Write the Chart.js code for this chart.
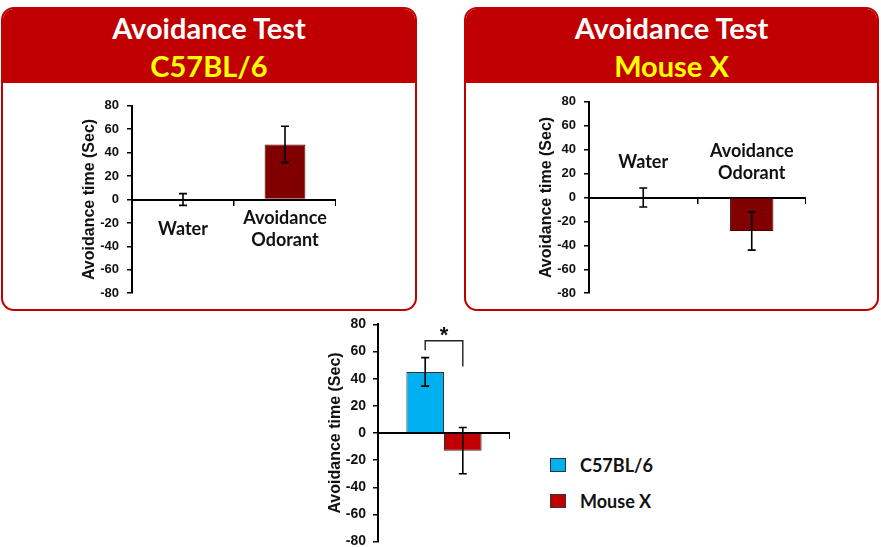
<!DOCTYPE html>
<html>
<head>
<meta charset="utf-8">
<script src="https://cdn.jsdelivr.net/npm/chart.js@4/dist/chart.umd.min.js"></script>
<style>
  html, body { margin: 0; padding: 0; background: #fff; width: 881px; height: 547px; overflow: hidden; }
  body { position: relative; font-family: Lato, sans-serif; }
  .painel { position: absolute; box-sizing: border-box; border: 2px solid #c00000; border-radius: 13px; overflow: hidden; background: #fff; }
  .cabecalho { position: absolute; left: 0; right: 0; top: 0; height: 74px; background: #c00000; }
  .titulo { position: absolute; text-align: center; font-weight: bold; font-size: 29px; line-height: 36px; white-space: nowrap; }
  canvas { position: absolute; }
  .legenda { position: absolute; left: 550px; font-weight: bold; font-size: 18px; color: #111; }
  .legenda div { position: relative; height: 36px; }
  .legenda span.caixa { position: absolute; left: 0; top: 0; width: 16px; height: 14px; box-sizing: border-box; border: 1px solid #333; }
  .legenda span.texto { position: absolute; left: 30px; top: -4px; line-height: 22px; white-space: nowrap; }
</style>
</head>
<body>

<div class="painel" style="left:1px;top:7px;width:416px;height:304px"><div class="cabecalho"></div></div>
<div class="painel" style="left:464px;top:7px;width:415px;height:304px"><div class="cabecalho"></div></div>

<div class="titulo" style="left:1px;width:416px;top:10px;color:#fff">Avoidance Test</div>
<div class="titulo" style="left:1px;width:416px;top:48px;color:#ffff00">C57BL/6</div>
<div class="titulo" style="left:464px;width:415px;top:10px;color:#fff">Avoidance Test</div>
<div class="titulo" style="left:464px;width:415px;top:48px;color:#ffff00">Mouse X</div>

<canvas id="graficoC57" width="260" height="219" style="left:76px;top:90px"></canvas>
<canvas id="graficoMouseX" width="273" height="223" style="left:533px;top:86px"></canvas>
<canvas id="graficoComparacao" width="188" height="248" style="left:322px;top:309px"></canvas>

<div class="legenda" id="legenda" style="top:458px"></div>

<script>
// Dados
const categorias = ['Water', ['Avoidance', 'Odorant']];
const c57Valores = [0, 47];
const c57Erros = [5, 15.5];
const mouseXValores = [0, -28];
const mouseXErros = [8, 16];

const grupos = ['C57BL/6', 'Mouse X'];
const comparacaoValores = [45, -13];
const comparacaoErros = [10.5, 17];
const coresGrupos = ['#00b0f0', '#c00000'];

// Eixo Y: -80 a 80, de 20 em 20
const yMin = -80;
const yMax = 80;
const yPasso = 20;

// Colchete de significância (valores no eixo Y)
const sigTopo = 68;
const sigEsquerda = 61;
const sigDireita = 49;
const sigAsterisco = 76;

// Barras de erro
const barrasDeErro = {
    id: 'barrasDeErro',
    afterDatasetsDraw(chart) {
        const ctx = chart.ctx;
        const y = chart.scales.y;
        chart.data.datasets.forEach((ds, i) => {
            chart.getDatasetMeta(i).data.forEach((barra, j) => {
                const topo = y.getPixelForValue(ds.data[j] + ds.erros[j]);
                const base = y.getPixelForValue(ds.data[j] - ds.erros[j]);
                ctx.save();
                ctx.strokeStyle = '#000';
                ctx.lineWidth = 1.6;
                ctx.beginPath();
                ctx.moveTo(barra.x, topo);
                ctx.lineTo(barra.x, base);
                ctx.moveTo(barra.x - 4, topo);
                ctx.lineTo(barra.x + 4, topo);
                ctx.moveTo(barra.x - 4, base);
                ctx.lineTo(barra.x + 4, base);
                ctx.stroke();
                ctx.restore();
            });
        });
    }
};

// Rótulos das categorias perto da linha do zero
const rotulos = {
    id: 'rotulos',
    afterDraw(chart, args, opts) {
        const ctx = chart.ctx;
        const x = chart.scales.x;
        const y0 = chart.scales.y.getPixelForValue(0) + opts.deslocamento;
        ctx.save();
        ctx.font = 'bold 18px Lato';
        ctx.fillStyle = '#111';
        ctx.textAlign = 'center';
        ctx.textBaseline = 'middle';
        chart.data.labels.forEach((rotulo, i) => {
            const linhas = [].concat(rotulo);
            const cx = x.getPixelForValue(i);
            linhas.forEach((t, k) => {
                ctx.fillText(t, cx, y0 + (k - (linhas.length - 1) / 2) * 22);
            });
        });
        ctx.restore();
    }
};

// Colchete com asterisco
const significancia = {
    id: 'significancia',
    afterDatasetsDraw(chart) {
        const ctx = chart.ctx;
        const y = chart.scales.y;
        const a = chart.getDatasetMeta(0).data[0].x;
        const b = chart.getDatasetMeta(1).data[0].x;
        ctx.save();
        ctx.strokeStyle = '#222';
        ctx.lineWidth = 1.4;
        ctx.beginPath();
        ctx.moveTo(a, y.getPixelForValue(sigEsquerda));
        ctx.lineTo(a, y.getPixelForValue(sigTopo));
        ctx.lineTo(b, y.getPixelForValue(sigTopo));
        ctx.lineTo(b, y.getPixelForValue(sigDireita));
        ctx.stroke();
        ctx.font = 'bold 22px "Liberation Sans"';
        ctx.fillStyle = '#111';
        ctx.textAlign = 'center';
        ctx.textBaseline = 'alphabetic';
        ctx.fillText('*', (a + b) / 2, y.getPixelForValue(sigAsterisco) + 12);
        ctx.restore();
    }
};

function escalas(tamanhoTick, paddingTick) {
    return {
        x: {
            position: { y: 0 },
            offset: true,
            ticks: { display: false },
            grid: { drawOnChartArea: false, color: '#000', lineWidth: 1.5, tickLength: 5 },
            border: { color: '#000', width: 2 },
            afterFit: s => { s.height = 0; }
        },
        y: {
            min: yMin,
            max: yMax,
            ticks: {
                stepSize: yPasso,
                color: '#111',
                padding: paddingTick,
                font: { family: 'Liberation Sans', weight: 'bold', size: tamanhoTick }
            },
            grid: { drawOnChartArea: false, color: '#000', lineWidth: 1.5, tickLength: 5 },
            border: { color: '#000', width: 2 },
            title: {
                display: true,
                text: 'Avoidance time (Sec)',
                color: '#111',
                font: { family: 'Liberation Sans', weight: 'bold', size: 16 }
            },
            afterFit: s => { s.width = 56; }
        }
    };
}

function opcoesBase(tamanhoTick, paddingTick) {
    return {
        responsive: false,
        devicePixelRatio: 1,
        animation: false,
        events: [],
        layout: { padding: 0 },
        plugins: { legend: { display: false }, tooltip: { enabled: false } },
        scales: escalas(tamanhoTick, paddingTick)
    };
}

// Painel C57BL/6
const opcoesC57 = opcoesBase(13, 8);
opcoesC57.plugins.rotulos = { deslocamento: 30 };
new Chart(document.getElementById('graficoC57'), {
    type: 'bar',
    data: {
        labels: categorias,
        datasets: [{
            data: c57Valores,
            erros: c57Erros,
            backgroundColor: '#800000',
            borderColor: '#4d0000',
            borderWidth: 1,
            categoryPercentage: 0.8,
            barPercentage: 0.5
        }]
    },
    options: opcoesC57,
    plugins: [barrasDeErro, rotulos]
});

// Painel Mouse X
const opcoesMouseX = opcoesBase(13, 8);
opcoesMouseX.plugins.rotulos = { deslocamento: -35 };
new Chart(document.getElementById('graficoMouseX'), {
    type: 'bar',
    data: {
        labels: categorias,
        datasets: [{
            data: mouseXValores,
            erros: mouseXErros,
            backgroundColor: '#800000',
            borderColor: '#4d0000',
            borderWidth: 1,
            categoryPercentage: 0.8,
            barPercentage: 0.5
        }]
    },
    options: opcoesMouseX,
    plugins: [barrasDeErro, rotulos]
});

// Comparação entre as linhagens
new Chart(document.getElementById('graficoComparacao'), {
    type: 'bar',
    data: {
        labels: [''],
        datasets: grupos.map((g, i) => ({
            label: g,
            data: [comparacaoValores[i]],
            erros: [comparacaoErros[i]],
            backgroundColor: coresGrupos[i],
            borderColor: '#333',
            borderWidth: 1,
            categoryPercentage: 0.57,
            barPercentage: 1
        }))
    },
    options: opcoesBase(14, 7),
    plugins: [barrasDeErro, significancia]
});

// Legenda
const legenda = document.getElementById('legenda');
grupos.forEach((g, i) => {
    const item = document.createElement('div');
    item.innerHTML = '<span class="caixa" style="background:' + coresGrupos[i] + '"></span><span class="texto">' + g + '</span>';
    legenda.appendChild(item);
});
</script>
</body>
</html>
